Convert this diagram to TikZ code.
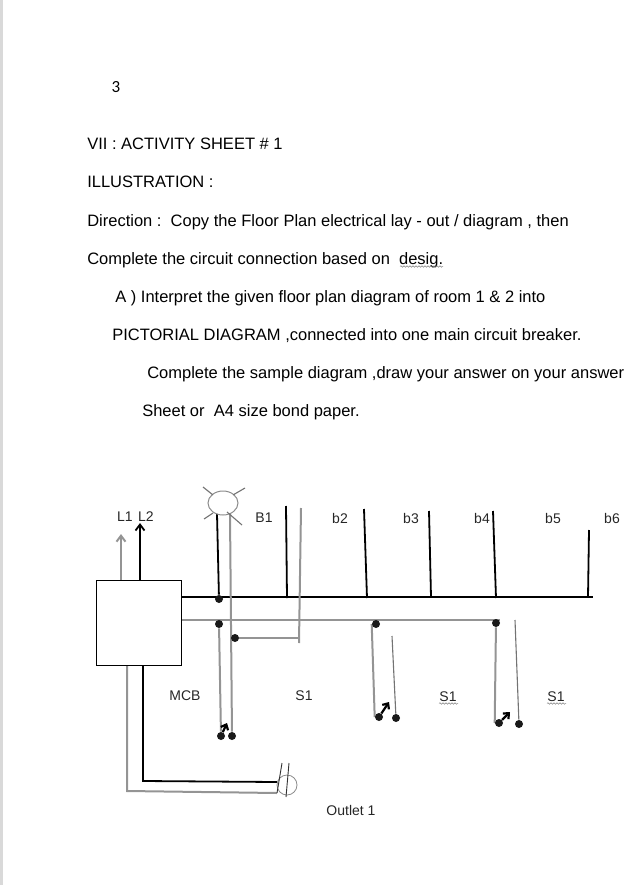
\documentclass[tikz,border=0pt]{standalone}
\usepackage{fontspec}
\setmainfont{Liberation Sans}
\newfontfamily\pagenofont{Carlito}
\usetikzlibrary{arrows,arrows.meta}
\usetikzlibrary{positioning}
\usetikzlibrary{shapes.geometric}
\usetikzlibrary{backgrounds}
\usetikzlibrary{decorations.pathmorphing}
\begin{document}
\begin{tikzpicture}[x=1pt,y=-1pt,>={Straight Barb[length=6pt,width=9pt]},semithick]
			\tikzstyle{line text}=[anchor=base west,inner sep=0pt,font=\fontsize{16.5}{18}\selectfont]
			\tikzstyle{label}=[inner sep=0pt,font=\fontsize{14}{16}\selectfont,text=black!85]
			\tikzstyle{bwire}=[draw=black,line width=1.8pt]
			\tikzstyle{gwire}=[draw=black!42,line width=2pt]
			\tikzstyle{thin gwire}=[draw=black!55,line width=1.1pt]
			\tikzstyle{conn}=[circle,fill=black!90,inner sep=0pt,minimum size=8pt]
			\tikzstyle{swarm}=[draw=black,line width=2.2pt,->,>={Straight Barb[length=4.5pt,width=8pt]}]
			\tikzstyle{squiggle}=[draw=black!50,line width=.5pt,decorate,decoration={snake,amplitude=.8pt,segment length=3pt}]
			\useasboundingbox (0,0) rectangle (626,885);
			\fill[black!15] (0,0) rectangle (3,885);
			
			% text of the sheet
			\node[inner sep=0pt,font=\pagenofont\fontsize{17}{18}\selectfont] (page) at (116,87) {3};
			\node[line text] (T_1) at (87,150) {VII : ACTIVITY SHEET \# 1};
			\node[line text] (T_2) at (87,188) {ILLUSTRATION :};
			\node[line text] (T_3) at (87,226) {Direction :\ \ Copy the Floor Plan electrical lay - out / diagram , then};
			\node[line text] (T_4) at (87,264) {Complete the circuit connection based on\ \ desig.};
			\node[line text] (T_5) at (115,302) {A ) Interpret the given floor plan diagram of room 1 \& 2 into};
			\node[line text] (T_6) at (112,340) {PICTORIAL DIAGRAM ,connected into one main circuit breaker.};
			\node[line text] (T_7) at (147,378) {Complete the sample diagram ,draw your answer on your answer};
			\node[line text] (T_8) at (142,416) {Sheet or\ \ A4 size bond paper.};
			\draw[squiggle] (400,266.5) -- (443,266.5);
			
			% breaker and lamp
			\node[draw,line width=1pt,minimum width=85pt,minimum height=85pt,inner sep=0pt] (MCB_box) at (138.5,622.5) {};
			\node[draw=black!45,line width=1pt,ellipse,minimum width=30pt,minimum height=24pt,inner sep=0pt] (lamp) at (223,503) {};
			\draw[thin gwire] (203,487) -- (213,495) (245,488) -- (233,495) (204,519) -- (213,513) (227,512) -- (242,525);
			
			% labels
			\node[label] (L_1) at (125,517) {L1};
			\node[label] (L_2) at (146,517) {L2};
			\node[label] (B_1) at (264,518) {B1};
			\node[label] (b_2) at (340,518) {b2};
			\node[label] (b_3) at (411,518) {b3};
			\node[label] (b_4) at (482,518) {b4};
			\node[label] (b_5) at (553,518) {b5};
			\node[label] (b_6) at (612,518) {b6};
			\node[label] (MCB) at (185,696) {MCB};
			\node[label] (S_1) at (304,696) {S1};
			\node[label] (S_2) at (448,697) {S1};
			\node[label] (S_3) at (556,697) {S1};
			\node[label] (outlet) at (351,810) {Outlet 1};
			\draw[squiggle] (439,703.5) -- (458,703.5);
			\draw[squiggle] (547,703.5) -- (566,703.5);
			
			% connection points
			\node[conn] (d_1) at (219,599) {};
			\node[conn] (d_2) at (219,624) {};
			\node[conn] (d_3) at (235,638) {};
			\node[conn] (d_4) at (376,624) {};
			\node[conn] (d_5) at (496,623) {};
			\node[conn] (d_6) at (221,736) {};
			\node[conn] (d_7) at (232,736) {};
			\node[conn] (d_8) at (379,717) {};
			\node[conn] (d_9) at (396,718) {};
			\node[conn] (d_10) at (499,723) {};
			\node[conn] (d_11) at (519,724) {};
			
			% free ends
			\coordinate (L1_end) at (121,534);
			\coordinate (L2_end) at (140,523);
			\coordinate (bus_end) at (593,597);
			\coordinate (gbus_end) at (500,620);
			\coordinate (B1_top) at (286,506);
			\coordinate (B1_bot) at (287,598);
			\coordinate (g1_top) at (301,508);
			\coordinate (g1_bot) at (299,643);
			\coordinate (g1_mid) at (299,638);
			\coordinate (b2_top) at (364,509);
			\coordinate (b2_bot) at (367,598);
			\coordinate (b3_top) at (429,511);
			\coordinate (b3_bot) at (431,597);
			\coordinate (b4_top) at (493,511);
			\coordinate (b4_bot) at (496,598);
			\coordinate (b5_top) at (589,530);
			\coordinate (b5_bot) at (588,597);
			\coordinate (lamp_b) at (217,514);
			\coordinate (lamp_g) at (230,514);
			\coordinate (s1_top) at (392,636);
			\coordinate (s2_top) at (515,620);
			\coordinate (a_1) at (227,723);
			\coordinate (a_2) at (389,702);
			\coordinate (a_3) at (510,712);
			
			% outlet
			\node[draw=black!45,line width=.8pt,circle,minimum size=20pt,inner sep=0pt] (plug) at (287,785) {};
			\draw[line width=.9pt,black!80] (282,763) -- (277,793) (289,763) -- (286,797);
			
			% wires
			\begin{pgfonlayer}{background}
			\draw[gwire,->] (MCB_box.north -| L1_end) -- (L1_end);
			\draw[bwire,->] (MCB_box.north -| L2_end) -- (L2_end);
			\draw[gwire] (MCB_box.east |- gbus_end) -- (gbus_end);
			\draw[bwire] (MCB_box.east |- bus_end) -- (bus_end);
			\draw[bwire] (lamp_b) -- (d_1);
			\draw[gwire] (lamp_g) -- (d_7);
			\draw[gwire] (d_2) -- (d_6);
			\draw[bwire] (B1_top) -- (B1_bot);
			\draw[gwire] (g1_top) -- (g1_bot);
			\draw[gwire] (d_3) -- (g1_mid);
			\draw[bwire] (b2_top) -- (b2_bot);
			\draw[bwire] (b3_top) -- (b3_bot);
			\draw[bwire] (b4_top) -- (b4_bot);
			\draw[bwire] (b5_top) -- (b5_bot);
			\draw[gwire] (d_4.west) -- (d_8.west);
			\draw[gwire] (d_5) -- (d_10.west);
			\draw[thin gwire] (s1_top) -- (d_9);
			\draw[thin gwire] (s2_top) -- (d_11);
			\draw[bwire] (143,665) -- (143,781) -- (277,782);
			\draw[gwire] (127,665) -- (127,791) -- (277,793);
			\end{pgfonlayer}
			
			% switch arms
			\draw[swarm] (d_6) -- (a_1);
			\draw[swarm] (d_8) -- (a_2);
			\draw[swarm] (d_10) -- (a_3);
			\end{tikzpicture}
\end{document}
